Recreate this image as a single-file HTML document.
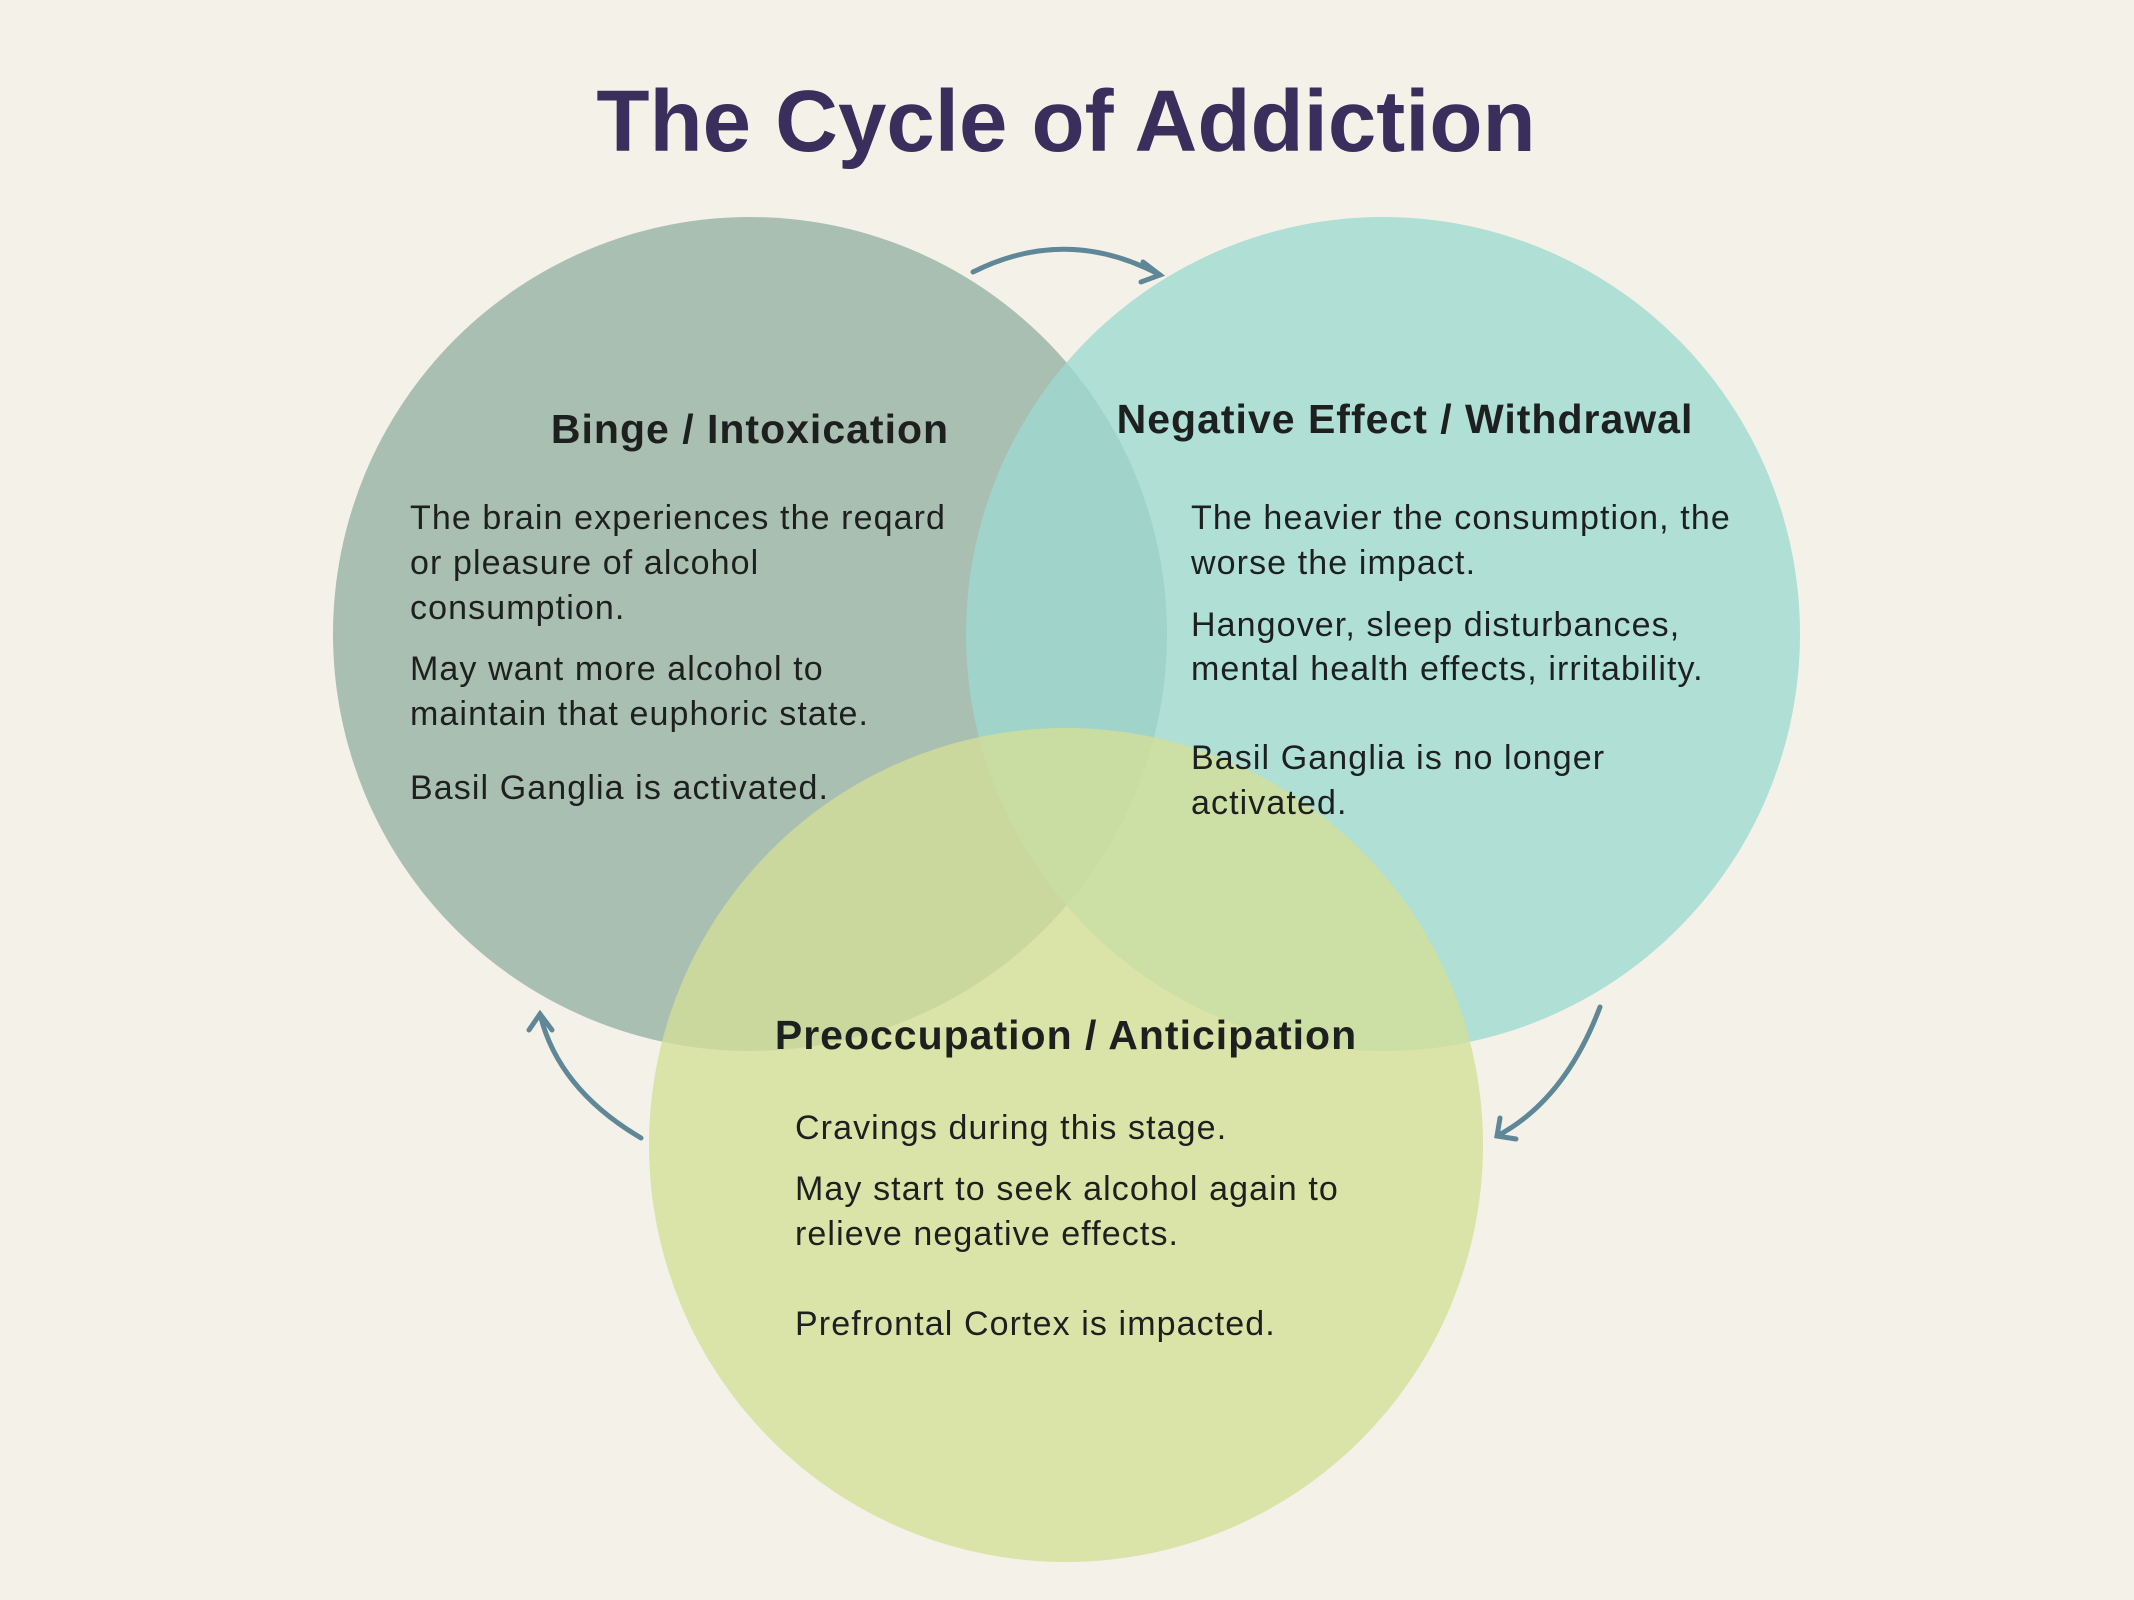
<!DOCTYPE html>
<html><head><meta charset="utf-8"><style>
html,body{margin:0;padding:0;background:#f4f2e8;}
svg{display:block;}
.h{font-family:"Liberation Sans",sans-serif;font-weight:bold;font-size:41px;letter-spacing:1px;fill:#1e2020;}
.b{font-family:"Liberation Sans",sans-serif;font-size:34px;letter-spacing:1.1px;fill:#1e2020;}
</style></head><body>
<svg width="2134" height="1600" viewBox="0 0 2134 1600" xmlns="http://www.w3.org/2000/svg">
<rect width="2134" height="1600" fill="#f4f2e8"/>
<text x="1066" y="151" text-anchor="middle" font-family="Liberation Sans,sans-serif" font-weight="bold" font-size="87" fill="#3a2f5c">The Cycle of Addiction</text>
<circle cx="750" cy="634" r="417" fill="rgb(150,177,164)" fill-opacity="0.8"/>
<circle cx="1383" cy="634" r="417" fill="rgb(158,217,208)" fill-opacity="0.8"/>
<circle cx="1066" cy="1145" r="417" fill="rgb(211,223,151)" fill-opacity="0.8"/>
<g fill="none" stroke="#5f8797" stroke-width="5" stroke-linecap="round">
<path d="M973 272 Q1067 225 1160 275"/>
<path d="M1143 262 L1160 275 L1141 282"/>
<path d="M1600 1007 Q1565 1100 1497 1136"/>
<path d="M1500 1118 L1497 1136 L1516 1139"/>
<path d="M641 1138 Q558 1089 540 1014"/>
<path d="M529 1030 L540 1014 L552 1030"/>
</g>
<text class="h" x="750" y="443" text-anchor="middle">Binge / Intoxication</text>
<text class="b" x="410" y="529">The brain experiences the reqard</text>
<text class="b" x="410" y="574">or pleasure of alcohol</text>
<text class="b" x="410" y="619">consumption.</text>
<text class="b" x="410" y="680">May want more alcohol to</text>
<text class="b" x="410" y="725">maintain that euphoric state.</text>
<text class="b" x="410" y="799">Basil Ganglia is activated.</text>
<text class="h" x="1405" y="433" text-anchor="middle">Negative Effect / Withdrawal</text>
<text class="b" x="1191" y="529">The heavier the consumption, the</text>
<text class="b" x="1191" y="574">worse the impact.</text>
<text class="b" x="1191" y="636">Hangover, sleep disturbances,</text>
<text class="b" x="1191" y="680">mental health effects, irritability.</text>
<text class="b" x="1191" y="769">Basil Ganglia is no longer</text>
<text class="b" x="1191" y="814">activated.</text>
<text class="h" x="1066" y="1049" text-anchor="middle">Preoccupation / Anticipation</text>
<text class="b" x="795" y="1139">Cravings during this stage.</text>
<text class="b" x="795" y="1200">May start to seek alcohol again to</text>
<text class="b" x="795" y="1245">relieve negative effects.</text>
<text class="b" x="795" y="1335">Prefrontal Cortex is impacted.</text>
</svg>
</body></html>
